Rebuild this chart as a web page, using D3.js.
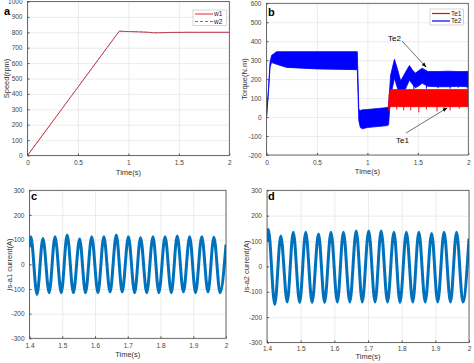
<!DOCTYPE html>
<html><head><meta charset="utf-8">
<script src="https://cdn.jsdelivr.net/npm/d3@7"></script>
<style>
body{margin:0;background:#fff}
text{font-family:Arial,"Liberation Sans",sans-serif}
</style>
</head><body>
<svg id="chart" width="474" height="363"></svg>
<script>
// ---------- DATA ----------
// (a) speed
const speedT  = [0, 0.91, 0.95, 1.0, 1.1, 1.2, 1.25, 1.3, 1.4, 1.6, 2.0];
const speedW1 = [0, 808, 806, 805, 803, 800, 797, 797, 799, 800, 800];
const speedW2 = [0, 808, 806, 805, 803, 800, 797, 797, 799, 800, 800];
const speedXTicks = [0, 0.5, 1, 1.5, 2];
const speedYTicks = [0,100,200,300,400,500,600,700,800,900,1000];
const speedLegend = ["w1", "w2"];

// (b) torque: Te2 envelope (upper / lower), Te1 envelope, spikes
const te2T  = [0, 0.02, 0.035, 0.05, 0.1, 0.2, 0.5, 0.89, 0.9, 0.915, 0.93, 0.95, 1.0, 1.1, 1.2, 1.21, 1.23, 1.268, 1.3, 1.33, 1.37, 1.417, 1.45, 1.477, 1.51, 1.543, 1.6, 1.7, 1.8, 1.9, 2.0];
const te2Hi = [0, 150, 290, 325, 345, 345, 345, 345, 345, 40, 35, 38, 40, 45, 50, 60, 220, 305, 250, 190, 230, 272, 245, 232, 245, 258, 240, 240, 242, 240, 240];
const te2Lo = [0, 140, 262, 288, 278, 262, 254, 250, 250, -20, -55, -62, -55, -50, -45, -40, 110, 205, 150, 105, 140, 195, 170, 155, 165, 178, 162, 160, 160, 162, 160];
const te2SpikeT = [1.345, 1.46, 1.585, 1.7, 1.82, 1.9, 1.99];
const te2SpikeV = [110, 145, 150, 152, 150, 155, 150];
const te1T  = [1.21, 1.215, 1.23, 1.4, 1.6, 1.8, 2.0];
const te1Hi = [40, 120, 145, 145, 145, 145, 145];
const te1Lo = [35, 45, 55, 55, 55, 55, 55];
const te1SpikeT = [1.29, 1.36, 1.43, 1.51, 1.585, 1.69, 1.76, 1.82, 1.91, 1.99];
const te1SpikeV = [40, 35, 35, 25, 40, 30, 42, 35, 45, 55];
const torqueXTicks = [0, 0.5, 1, 1.5, 2];
const torqueYTicks = [-200,-100,0,100,200,300,400,500,600];
const torqueLegend = ["Te1", "Te2"];

// (c),(d) phase currents: extrema (start, peak, trough, ..., end)
const curT = [1.400, 1.404, 1.423, 1.441, 1.460, 1.478, 1.497, 1.515, 1.534, 1.553, 1.571,
              1.590, 1.609, 1.627, 1.646, 1.665, 1.683, 1.702, 1.721, 1.739, 1.758, 1.777,
              1.795, 1.814, 1.833, 1.851, 1.870, 1.889, 1.907, 1.926, 1.945, 1.963, 1.982, 2.000];
const isa1 = [70, 112, -122, 105, -115, 112, -115, 119, -115, 103, -115, 112, -115, 112, -112,
              119, -112, 112, -115, 108, -115, 112, -115, 112, -115, 115, -112, 112, -115,
              112, -112, 110, -115, 80];
const isa2 = [100, 145, -150, 120, -140, 135, -142, 135, -142, 128, -142, 135, -140, 135, -140,
              140, -140, 140, -140, 140, -140, 135, -142, 135, -140, 135, -140, 130, -140,
              135, -140, 135, -140, 110];
const curXTicks = [1.4,1.5,1.6,1.7,1.8,1.9,2];
const curYTicks = [-300,-200,-100,0,100,200,300];

// ---------- DRAW ----------
const svg = d3.select("#chart");
const defs = svg.append("defs");
defs.append("marker").attr("id","arr").attr("viewBox","0 0 10 10").attr("refX",9).attr("refY",5)
  .attr("markerWidth",7).attr("markerHeight",7).attr("orient","auto-start-reverse")
  .append("path").attr("d","M0,1.5 L10,5 L0,8.5 z").attr("fill","#000");

function panel(id, box, xDom, yDom, xTicks, yTicks, yLabel, letter, letterPos){
  const x = d3.scaleLinear().domain(xDom).range([box.l, box.r]);
  const y = d3.scaleLinear().domain(yDom).range([box.b, box.t]);
  const g = svg.append("g");
  defs.append("clipPath").attr("id","clip"+id).append("rect")
    .attr("x",box.l).attr("y",box.t).attr("width",box.r-box.l).attr("height",box.b-box.t);
  // grid
  g.append("g").attr("transform",`translate(0,${box.b})`)
    .call(d3.axisBottom(x).tickValues(xTicks).tickSize(-(box.b-box.t)).tickFormat(""))
    .call(s=>{s.select(".domain").remove(); s.selectAll("line").attr("stroke","#e4e4e4").attr("stroke-width",0.7);});
  g.append("g").attr("transform",`translate(${box.l},0)`)
    .call(d3.axisLeft(y).tickValues(yTicks).tickSize(-(box.r-box.l)).tickFormat(""))
    .call(s=>{s.select(".domain").remove(); s.selectAll("line").attr("stroke","#e4e4e4").attr("stroke-width",0.7);});
  // tick labels + inward ticks
  g.append("g").attr("transform",`translate(0,${box.b})`)
    .call(d3.axisBottom(x).tickValues(xTicks).tickSize(-2).tickPadding(box.xp).tickFormat(d=>String(+d.toFixed(2))))
    .call(s=>{s.select(".domain").remove(); s.selectAll("line").attr("stroke","#555");
      s.selectAll("text").attr("font-size","6.5px").attr("fill","#444").attr("font-family","Arial");});
  g.append("g").attr("transform",`translate(${box.l},0)`)
    .call(d3.axisLeft(y).tickValues(yTicks).tickSize(-2).tickPadding(5).tickFormat(d=>String(d)))
    .call(s=>{s.select(".domain").remove(); s.selectAll("line").attr("stroke","#555");
      s.selectAll("text").attr("font-size","6.5px").attr("fill","#444").attr("font-family","Arial");});
  const data = svg.append("g").attr("clip-path",`url(#clip${id})`);
  const over = svg.append("g");
  over.append("rect").attr("x",box.l).attr("y",box.t).attr("width",box.r-box.l).attr("height",box.b-box.t)
    .attr("fill","none").attr("stroke","#4a4a4a").attr("stroke-width",0.8);
  over.append("text").attr("x",(box.l+box.r)/2).attr("y",box.b+box.xl).attr("text-anchor","middle")
    .attr("font-size","7.5px").attr("fill","#333").text("Time(s)");
  over.append("text").attr("transform",`translate(${box.yl},${(box.t+box.b)/2}) rotate(-90)`)
    .attr("text-anchor","middle").attr("dy","0.35em").attr("font-size","7.5px").attr("fill","#333").text(yLabel);
  over.append("text").attr("x",letterPos[0]).attr("y",letterPos[1]).attr("font-family","'Liberation Serif','Times New Roman',serif")
    .attr("font-weight","bold").attr("font-size","11px").attr("fill","#000").text(letter);
  return {x,y,data,over};
}

// (a)
{
  const p = panel("a",{l:27.5,r:229.3,t:1.5,b:155.5,yl:6,xp:5,xl:19},[0,2],[0,1000],speedXTicks,speedYTicks,"Speed(rpm)","a",[4,15]);
  const line = d3.line().x((d,i)=>p.x(speedT[i])).y(d=>p.y(d));
  p.data.append("path").attr("d",line(speedW1)).attr("fill","none").attr("stroke","#e8262a").attr("stroke-width",1);
  p.data.append("path").attr("d",line(speedW2)).attr("fill","none").attr("stroke","#4a7fb5").attr("stroke-width",0.9).attr("stroke-dasharray","3,2").attr("opacity",0.6);
  const lg = p.over.append("g");
  lg.append("rect").attr("x",193).attr("y",10).attr("width",33.5).attr("height",15.5).attr("fill","#fff").attr("stroke","#bbb").attr("stroke-width",0.6);
  const cols = ["#e8262a","#4a7fb5"], dash=[null,"3,2"];
  speedLegend.forEach((t,i)=>{
    const yy = 14 + i*7.5;
    lg.append("line").attr("x1",195).attr("x2",213).attr("y1",yy).attr("y2",yy).attr("stroke",cols[i]).attr("stroke-width",1).attr("stroke-dasharray",dash[i]);
    lg.append("text").attr("x",214).attr("y",yy).attr("dy","0.35em").attr("font-size","6.5px").attr("fill","#222").text(t);
  });
}

// (b)
{
  const p = panel("b",{l:266.5,r:468.3,t:3.3,b:155,yl:244,xp:5,xl:19},[0,2],[-200,600],torqueXTicks,torqueYTicks,"Torque(N.m)","b",[268,16]);
  const area = (T,Hi,Lo)=>d3.area().x((d,i)=>p.x(T[i])).y0((d,i)=>p.y(Lo[i])).y1(d=>p.y(d))(Hi);
  p.data.append("path").attr("d",area(te2T,te2Hi,te2Lo)).attr("fill","#0000ff").attr("stroke","#0000ff").attr("stroke-width",0.8);
  p.data.selectAll(".s2").data(te2SpikeT).join("line").attr("x1",d=>p.x(d)).attr("x2",d=>p.x(d))
    .attr("y1",d=>p.y(200)).attr("y2",(d,i)=>p.y(te2SpikeV[i])).attr("stroke","#0000ff").attr("stroke-width",1);
  p.data.append("path").attr("d",area(te1T,te1Hi,te1Lo)).attr("fill","#ff0000").attr("stroke","#ff0000").attr("stroke-width",0.8);
  p.data.selectAll(".s1").data(te1SpikeT).join("line").attr("x1",d=>p.x(d)).attr("x2",d=>p.x(d))
    .attr("y1",d=>p.y(100)).attr("y2",(d,i)=>p.y(te1SpikeV[i])).attr("stroke","#ff0000").attr("stroke-width",1);
  const lg = p.over.append("g");
  lg.append("rect").attr("x",430).attr("y",9).attr("width",33.5).attr("height",16).attr("fill","#fff").attr("stroke","#bbb").attr("stroke-width",0.6);
  const cols = ["#ff0000","#0000ff"];
  torqueLegend.forEach((t,i)=>{
    const yy = 13.5 + i*7.5;
    lg.append("line").attr("x1",432).attr("x2",450).attr("y1",yy).attr("y2",yy).attr("stroke",cols[i]).attr("stroke-width",1.2);
    lg.append("text").attr("x",451).attr("y",yy).attr("dy","0.35em").attr("font-size","6.5px").attr("fill","#222").text(t);
  });
  p.over.append("text").attr("x",388).attr("y",41).attr("font-size","8px").attr("fill","#000").text("Te2");
  p.over.append("line").attr("x1",402).attr("y1",41).attr("x2",426).attr("y2",67).attr("stroke","#333").attr("stroke-width",0.7).attr("marker-end","url(#arr)");
  p.over.append("text").attr("x",396).attr("y",143).attr("font-size","8px").attr("fill","#000").text("Te1");
  p.over.append("line").attr("x1",406).attr("y1",133).attr("x2",447).attr("y2",108).attr("stroke","#333").attr("stroke-width",0.7).attr("marker-end","url(#arr)");
}

// (c)
{
  const p = panel("c",{l:29.5,r:226,t:190.3,b:338.3,yl:9,xp:5,xl:18.5},[1.4,2],[-300,300],curXTicks,curYTicks,"is-a1 current(A)","c",[31,200]);
  const line = d3.line().curve(d3.curveMonotoneX).x((d,i)=>p.x(curT[i])).y(d=>p.y(d));
  p.data.append("path").attr("d",line(isa1)).attr("fill","none").attr("stroke","#0072bd").attr("stroke-width",3).attr("stroke-linejoin","round");
}
// (d)
{
  const p = panel("d",{l:267,r:469,t:190.3,b:342.5,yl:246,xp:3.5,xl:16},[1.4,2],[-300,300],curXTicks,curYTicks,"is-a2 current(A)","d",[268,200]);
  const line = d3.line().curve(d3.curveMonotoneX).x((d,i)=>p.x(curT[i])).y(d=>p.y(d));
  p.data.append("path").attr("d",line(isa2)).attr("fill","none").attr("stroke","#0072bd").attr("stroke-width",3).attr("stroke-linejoin","round");
}
</script>
</body></html>
